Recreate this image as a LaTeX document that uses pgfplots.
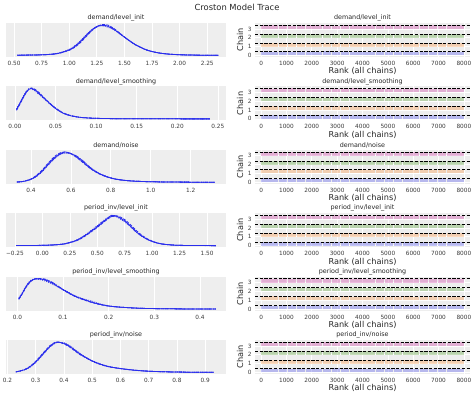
\documentclass[border=0pt]{standalone}
\usepackage{fontspec}
\setmainfont{DejaVu Sans}
\usepackage{pgfplots}
\pgfplotsset{compat=1.18}
\usepackage{pgfplotstable}
\definecolor{cA}{HTML}{2A2EEC}
\definecolor{cB}{HTML}{FA7C17}
\definecolor{cC}{HTML}{328C06}
\definecolor{cD}{HTML}{C10C90}
\definecolor{bg}{HTML}{EEEEEE}
\definecolor{tickc}{HTML}{3A3A3A}
\definecolor{labc}{HTML}{262626}
\newcommand{\ticksize}{\fontsize{5.8}{7}\selectfont}
\newcommand{\titsize}{\fontsize{6.4}{7.5}\selectfont}
\newcommand{\labsize}{\fontsize{8.2}{9.5}\selectfont}

% ---------- KDE tables (x, chain 0..3) ----------
\pgfplotstableread{
x a b c d
0.53 0.010 0.008 0.012 0.010
0.60 0.012 0.010 0.014 0.012
0.70 0.018 0.015 0.020 0.017
0.80 0.030 0.028 0.034 0.030
0.90 0.070 0.065 0.075 0.070
1.00 0.190 0.170 0.200 0.180
1.05 0.300 0.270 0.320 0.290
1.10 0.460 0.420 0.480 0.450
1.15 0.650 0.610 0.670 0.640
1.20 0.830 0.800 0.840 0.820
1.25 0.960 0.950 0.950 0.940
1.30 1.000 1.020 0.970 0.990
1.35 0.960 1.000 0.930 0.970
1.40 0.870 0.900 0.850 0.880
1.45 0.740 0.760 0.730 0.750
1.50 0.600 0.610 0.600 0.610
1.55 0.470 0.470 0.480 0.480
1.60 0.350 0.350 0.360 0.360
1.70 0.180 0.180 0.190 0.185
1.80 0.090 0.090 0.095 0.090
1.90 0.045 0.045 0.050 0.045
2.00 0.025 0.022 0.027 0.024
2.10 0.015 0.013 0.016 0.014
2.20 0.010 0.008 0.010 0.009
2.35 0.005 0.004 0.005 0.004
}\kdeA
\pgfplotstableread{
x a b c d
0.002 0.30 0.28 0.33 0.31
0.005 0.45 0.43 0.48 0.46
0.008 0.60 0.58 0.63 0.61
0.011 0.75 0.73 0.78 0.76
0.014 0.88 0.87 0.91 0.89
0.017 0.97 0.97 0.99 0.98
0.020 1.00 1.02 0.99 1.01
0.023 0.98 1.00 0.95 0.97
0.026 0.93 0.95 0.89 0.91
0.030 0.84 0.86 0.80 0.82
0.035 0.71 0.72 0.68 0.70
0.040 0.58 0.59 0.56 0.58
0.045 0.45 0.47 0.45 0.46
0.050 0.34 0.36 0.35 0.35
0.055 0.25 0.27 0.26 0.26
0.060 0.18 0.19 0.19 0.18
0.065 0.13 0.14 0.14 0.13
0.070 0.095 0.10 0.10 0.095
0.080 0.050 0.052 0.055 0.050
0.090 0.030 0.030 0.032 0.029
0.100 0.018 0.018 0.020 0.017
0.120 0.008 0.008 0.009 0.008
0.140 0.004 0.004 0.005 0.004
0.170 0.002 0.002 0.002 0.002
0.200 0.001 0.001 0.001 0.001
0.240 0.0005 0.0005 0.0005 0.0005
}\kdeB
\pgfplotstableread{
x a b c d
0.33 0.010 0.012 0.008 0.010
0.36 0.025 0.028 0.022 0.025
0.40 0.100 0.110 0.090 0.100
0.43 0.220 0.240 0.200 0.210
0.46 0.400 0.430 0.370 0.390
0.49 0.620 0.660 0.590 0.610
0.52 0.820 0.860 0.790 0.800
0.55 0.960 0.980 0.930 0.940
0.57 1.000 1.000 0.960 0.970
0.60 0.950 0.940 0.940 0.950
0.63 0.830 0.810 0.850 0.860
0.66 0.670 0.650 0.700 0.710
0.70 0.450 0.440 0.480 0.470
0.74 0.290 0.280 0.300 0.300
0.78 0.180 0.175 0.190 0.185
0.82 0.110 0.105 0.115 0.110
0.86 0.070 0.068 0.072 0.070
0.90 0.045 0.043 0.047 0.045
0.95 0.028 0.027 0.029 0.028
1.00 0.018 0.017 0.019 0.018
1.05 0.012 0.011 0.013 0.012
1.10 0.008 0.008 0.009 0.008
1.20 0.004 0.004 0.004 0.004
1.32 0.002 0.002 0.002 0.002
}\kdeC
\pgfplotstableread{
x a b c d
-0.24 0.003 0.003 0.003 0.003
-0.10 0.006 0.005 0.006 0.006
0.00 0.012 0.010 0.013 0.012
0.10 0.025 0.022 0.027 0.025
0.20 0.060 0.055 0.065 0.060
0.30 0.160 0.150 0.170 0.160
0.35 0.250 0.230 0.260 0.250
0.40 0.360 0.340 0.380 0.370
0.45 0.490 0.470 0.520 0.500
0.50 0.620 0.600 0.660 0.640
0.55 0.770 0.750 0.810 0.790
0.60 0.920 0.890 0.940 0.910
0.63 1.000 0.960 0.990 0.960
0.66 0.990 0.990 0.970 0.970
0.70 0.930 0.960 0.900 0.930
0.75 0.820 0.860 0.780 0.810
0.80 0.650 0.700 0.630 0.650
0.85 0.470 0.520 0.460 0.480
0.90 0.330 0.360 0.320 0.330
0.95 0.220 0.240 0.210 0.220
1.00 0.140 0.150 0.135 0.140
1.05 0.085 0.090 0.080 0.085
1.10 0.050 0.053 0.048 0.050
1.20 0.018 0.019 0.017 0.018
1.30 0.008 0.008 0.007 0.008
1.45 0.004 0.004 0.003 0.004
1.58 0.002 0.002 0.002 0.002
}\kdeD
\pgfplotstableread{
x a b c d
0.003 0.34 0.32 0.36 0.33
0.010 0.50 0.48 0.53 0.50
0.020 0.76 0.74 0.79 0.77
0.030 0.93 0.92 0.96 0.94
0.040 1.00 1.00 1.00 0.99
0.050 0.99 1.01 0.97 0.98
0.060 0.96 0.99 0.93 0.97
0.070 0.90 0.92 0.87 0.93
0.080 0.82 0.83 0.80 0.85
0.090 0.73 0.73 0.72 0.75
0.100 0.64 0.63 0.65 0.65
0.110 0.55 0.54 0.57 0.56
0.120 0.47 0.46 0.49 0.47
0.130 0.40 0.39 0.42 0.40
0.140 0.35 0.33 0.36 0.34
0.150 0.30 0.28 0.31 0.29
0.160 0.24 0.23 0.28 0.24
0.180 0.16 0.15 0.18 0.16
0.200 0.10 0.10 0.11 0.10
0.220 0.07 0.068 0.072 0.07
0.250 0.04 0.038 0.042 0.04
0.280 0.022 0.021 0.023 0.022
0.320 0.012 0.011 0.012 0.012
0.360 0.006 0.006 0.006 0.006
0.400 0.003 0.003 0.003 0.003
0.435 0.002 0.002 0.002 0.002
}\kdeE
\pgfplotstableread{
x a b c d
0.23 0.020 0.022 0.018 0.020
0.25 0.060 0.065 0.055 0.060
0.27 0.130 0.140 0.120 0.130
0.29 0.260 0.280 0.240 0.260
0.31 0.440 0.470 0.420 0.440
0.33 0.650 0.680 0.630 0.650
0.35 0.850 0.880 0.830 0.860
0.37 0.980 1.000 0.970 0.990
0.38 1.000 1.000 0.990 1.000
0.40 0.960 0.940 0.980 0.960
0.42 0.860 0.840 0.890 0.870
0.44 0.720 0.700 0.750 0.730
0.46 0.590 0.570 0.610 0.600
0.48 0.480 0.470 0.490 0.480
0.50 0.380 0.370 0.390 0.380
0.53 0.270 0.260 0.280 0.270
0.56 0.190 0.185 0.195 0.190
0.60 0.130 0.125 0.135 0.130
0.65 0.075 0.072 0.078 0.075
0.70 0.042 0.040 0.044 0.042
0.75 0.025 0.024 0.026 0.025
0.80 0.015 0.014 0.016 0.015
0.85 0.009 0.009 0.010 0.009
0.93 0.005 0.005 0.005 0.005
}\kdeF

% ---------- rank histogram tables (bin centre, bar height per chain) ----------
\pgfplotstableread{
x a b c d
173.9 0.42 0.39 0.44 0.40
521.7 0.38 0.43 0.40 0.42
869.6 0.44 0.41 0.37 0.43
1217.4 0.40 0.45 0.42 0.38
1565.2 0.43 0.38 0.41 0.44
1913.0 0.39 0.42 0.45 0.40
2260.9 0.41 0.40 0.39 0.43
2608.7 0.45 0.37 0.42 0.41
2956.5 0.37 0.44 0.40 0.39
3304.3 0.42 0.41 0.43 0.45
3652.2 0.40 0.39 0.38 0.42
4000.0 0.44 0.43 0.41 0.37
4347.8 0.38 0.40 0.44 0.41
4695.7 0.41 0.45 0.39 0.43
5043.5 0.43 0.38 0.42 0.40
5391.3 0.39 0.42 0.40 0.44
5739.1 0.42 0.40 0.43 0.38
6087.0 0.40 0.44 0.37 0.42
6434.8 0.44 0.39 0.41 0.40
6782.6 0.37 0.42 0.44 0.43
7130.4 0.41 0.40 0.40 0.39
7478.3 0.43 0.43 0.38 0.41
7826.1 0.40 0.41 0.42 0.44
}\rankA
\pgfplotstableread{
x a b c d
173.9 0.40 0.43 0.38 0.42
521.7 0.44 0.40 0.42 0.39
869.6 0.39 0.42 0.44 0.41
1217.4 0.42 0.38 0.40 0.44
1565.2 0.41 0.44 0.39 0.40
1913.0 0.45 0.41 0.43 0.37
2260.9 0.38 0.39 0.41 0.43
2608.7 0.42 0.43 0.37 0.40
2956.5 0.40 0.40 0.44 0.42
3304.3 0.43 0.37 0.41 0.39
3652.2 0.39 0.42 0.40 0.44
4000.0 0.41 0.44 0.43 0.41
4347.8 0.44 0.39 0.38 0.40
4695.7 0.37 0.41 0.42 0.43
5043.5 0.42 0.43 0.40 0.38
5391.3 0.40 0.38 0.45 0.42
5739.1 0.43 0.42 0.39 0.40
6087.0 0.38 0.40 0.42 0.44
6434.8 0.41 0.45 0.40 0.39
6782.6 0.44 0.39 0.43 0.41
7130.4 0.39 0.42 0.38 0.43
7478.3 0.42 0.40 0.41 0.37
7826.1 0.41 0.43 0.44 0.42
}\rankB
\pgfplotstableread{
x a b c d
173.9 0.43 0.41 0.40 0.38
521.7 0.39 0.44 0.43 0.42
869.6 0.41 0.38 0.39 0.44
1217.4 0.44 0.42 0.41 0.40
1565.2 0.38 0.40 0.44 0.43
1913.0 0.42 0.43 0.38 0.41
2260.9 0.40 0.37 0.42 0.39
2608.7 0.43 0.42 0.40 0.44
2956.5 0.41 0.45 0.43 0.40
3304.3 0.37 0.40 0.39 0.42
3652.2 0.44 0.41 0.44 0.38
4000.0 0.40 0.39 0.40 0.43
4347.8 0.42 0.43 0.37 0.41
4695.7 0.39 0.40 0.42 0.45
5043.5 0.44 0.38 0.41 0.39
5391.3 0.41 0.42 0.43 0.40
5739.1 0.38 0.44 0.40 0.42
6087.0 0.43 0.41 0.44 0.38
6434.8 0.40 0.39 0.39 0.43
6782.6 0.42 0.43 0.41 0.41
7130.4 0.45 0.40 0.42 0.44
7478.3 0.39 0.42 0.38 0.40
7826.1 0.41 0.38 0.43 0.42
}\rankC

\pgfplotsset{
  common/.style={scale only axis, height=34bp, anchor=south west,
    axis background/.style={fill=bg}, axis line style={draw=none},
    major tick length=0pt, tick style={draw=none},
    grid style={white, line width=0.7bp},
    ticklabel style={font=\ticksize, text=tickc},
    xticklabel style={yshift=-0.6bp},
    title style={font=\titsize, text=labc, at={(0.5,1)}, anchor=south, yshift=-4.4bp, inner sep=0pt}},
  kdeax/.style={common, width=220bp, ymin=-0.05, ymax=1.07, ytick=\empty, xmajorgrids},
  rankax/.style={common, width=215bp, xmin=-240, xmax=8240, ymin=-0.175, ymax=3.675,
    xtick={0,1000,2000,3000,4000,5000,6000,7000,8000},
    xticklabels={0,1000,2000,3000,4000,5000,6000,7000,8000},
    ytick={0,1,2,3}, yticklabels={0,1,2,3}, grid=major,
    xlabel={Rank (all chains)}, ylabel={Chain},
    label style={font=\labsize, text=labc},
    xlabel style={at={([yshift=-10.4bp]axis description cs:0.5,0)}, anchor=north, inner sep=0pt},
    ylabel style={at={([xshift=-15bp]axis description cs:0,0.5)}, anchor=center, inner sep=0pt}},
  k0/.style={cA, mark=none, line width=0.8bp, smooth},
  k1/.style={cA, mark=none, line width=0.8bp, smooth, dash pattern=on 3.0bp off 1.3bp},
  k2/.style={cA, mark=none, line width=0.8bp, smooth, dash pattern=on 0.8bp off 1.3bp},
  k3/.style={cA, mark=none, line width=0.8bp, smooth, dash pattern=on 5.1bp off 1.3bp on 0.8bp off 1.3bp},
  rbar/.style={draw=none, mark=none, error bars/.cd, y dir=plus, y explicit, error mark=none,
    error bar style={draw=#1, draw opacity=0.28, line width=8.1bp, solid}},
  dline/.style={black, mark=none, line width=0.9bp, dash pattern=on 3.3bp off 1.4bp},
}

\newcommand{\kdepanel}[7]{%
\begin{axis}[kdeax, at={(6bp,#1)}, title={#2}, xmin=#4, xmax=#5, xtick={#6}, xticklabels={#7}]
\addplot[k0] table[x=x, y=a]{#3};
\addplot[k1] table[x=x, y=b]{#3};
\addplot[k2] table[x=x, y=c]{#3};
\addplot[k3] table[x=x, y=d]{#3};
\end{axis}}

\newcommand{\rankpanel}[7]{%
\begin{axis}[rankax, at={(255bp,#1)}, title={#2}]
\addplot[rbar=cA] table[x=x, y expr=0, y error=#4]{#3};
\addplot[rbar=cB] table[x=x, y expr=1, y error=#5]{#3};
\addplot[rbar=cC] table[x=x, y expr=2, y error=#6]{#3};
\addplot[rbar=cD] table[x=x, y expr=3, y error=#7]{#3};
\addplot[dline] coordinates {(-240,0.41) (8240,0.41)};
\addplot[dline] coordinates {(-240,1.41) (8240,1.41)};
\addplot[dline] coordinates {(-240,2.41) (8240,2.41)};
\addplot[dline] coordinates {(-240,3.41) (8240,3.41)};
\end{axis}}

\begin{document}
\begin{tikzpicture}
\path[use as bounding box] (0,0) rectangle (474bp,395bp);
\node[font=\fontsize{8.4}{10}\selectfont, text=labc] at (237bp,388bp) {Croston Model Trace};

\kdepanel{338bp}{demand/level\_init}{\kdeA}{0.427}{2.42}{0.5,0.75,1,1.25,1.5,1.75,2,2.25}{0.50,0.75,1.00,1.25,1.50,1.75,2.00,2.25}
\kdepanel{274.6bp}{demand/level\_smoothing}{\kdeB}{-0.011}{0.26}{0,0.05,0.1,0.15,0.2,0.25}{0.00,0.05,0.10,0.15,0.20,0.25}
\kdepanel{211.2bp}{demand/noise}{\kdeC}{0.275}{1.377}{0.4,0.6,0.8,1.0,1.2}{0.4,0.6,0.8,1.0,1.2}
\kdepanel{147.8bp}{period\_inv/level\_init}{\kdeD}{-0.332}{1.673}{-0.25,0,0.25,0.5,0.75,1,1.25,1.5}{−0.25,0.00,0.25,0.50,0.75,1.00,1.25,1.50}
\kdepanel{84.4bp}{period\_inv/level\_smoothing}{\kdeE}{-0.025}{0.457}{0,0.1,0.2,0.3,0.4}{0.0,0.1,0.2,0.3,0.4}
\kdepanel{21bp}{period\_inv/noise}{\kdeF}{0.195}{0.974}{0.2,0.3,0.4,0.5,0.6,0.7,0.8,0.9}{0.2,0.3,0.4,0.5,0.6,0.7,0.8,0.9}

\rankpanel{338bp}{demand/level\_init}{\rankA}{a}{b}{c}{d}
\rankpanel{274.6bp}{demand/level\_smoothing}{\rankB}{a}{b}{c}{d}
\rankpanel{211.2bp}{demand/noise}{\rankC}{a}{b}{c}{d}
\rankpanel{147.8bp}{period\_inv/level\_init}{\rankA}{c}{d}{a}{b}
\rankpanel{84.4bp}{period\_inv/level\_smoothing}{\rankB}{d}{a}{b}{c}
\rankpanel{21bp}{period\_inv/noise}{\rankC}{b}{c}{d}{a}
\end{tikzpicture}
\end{document}
